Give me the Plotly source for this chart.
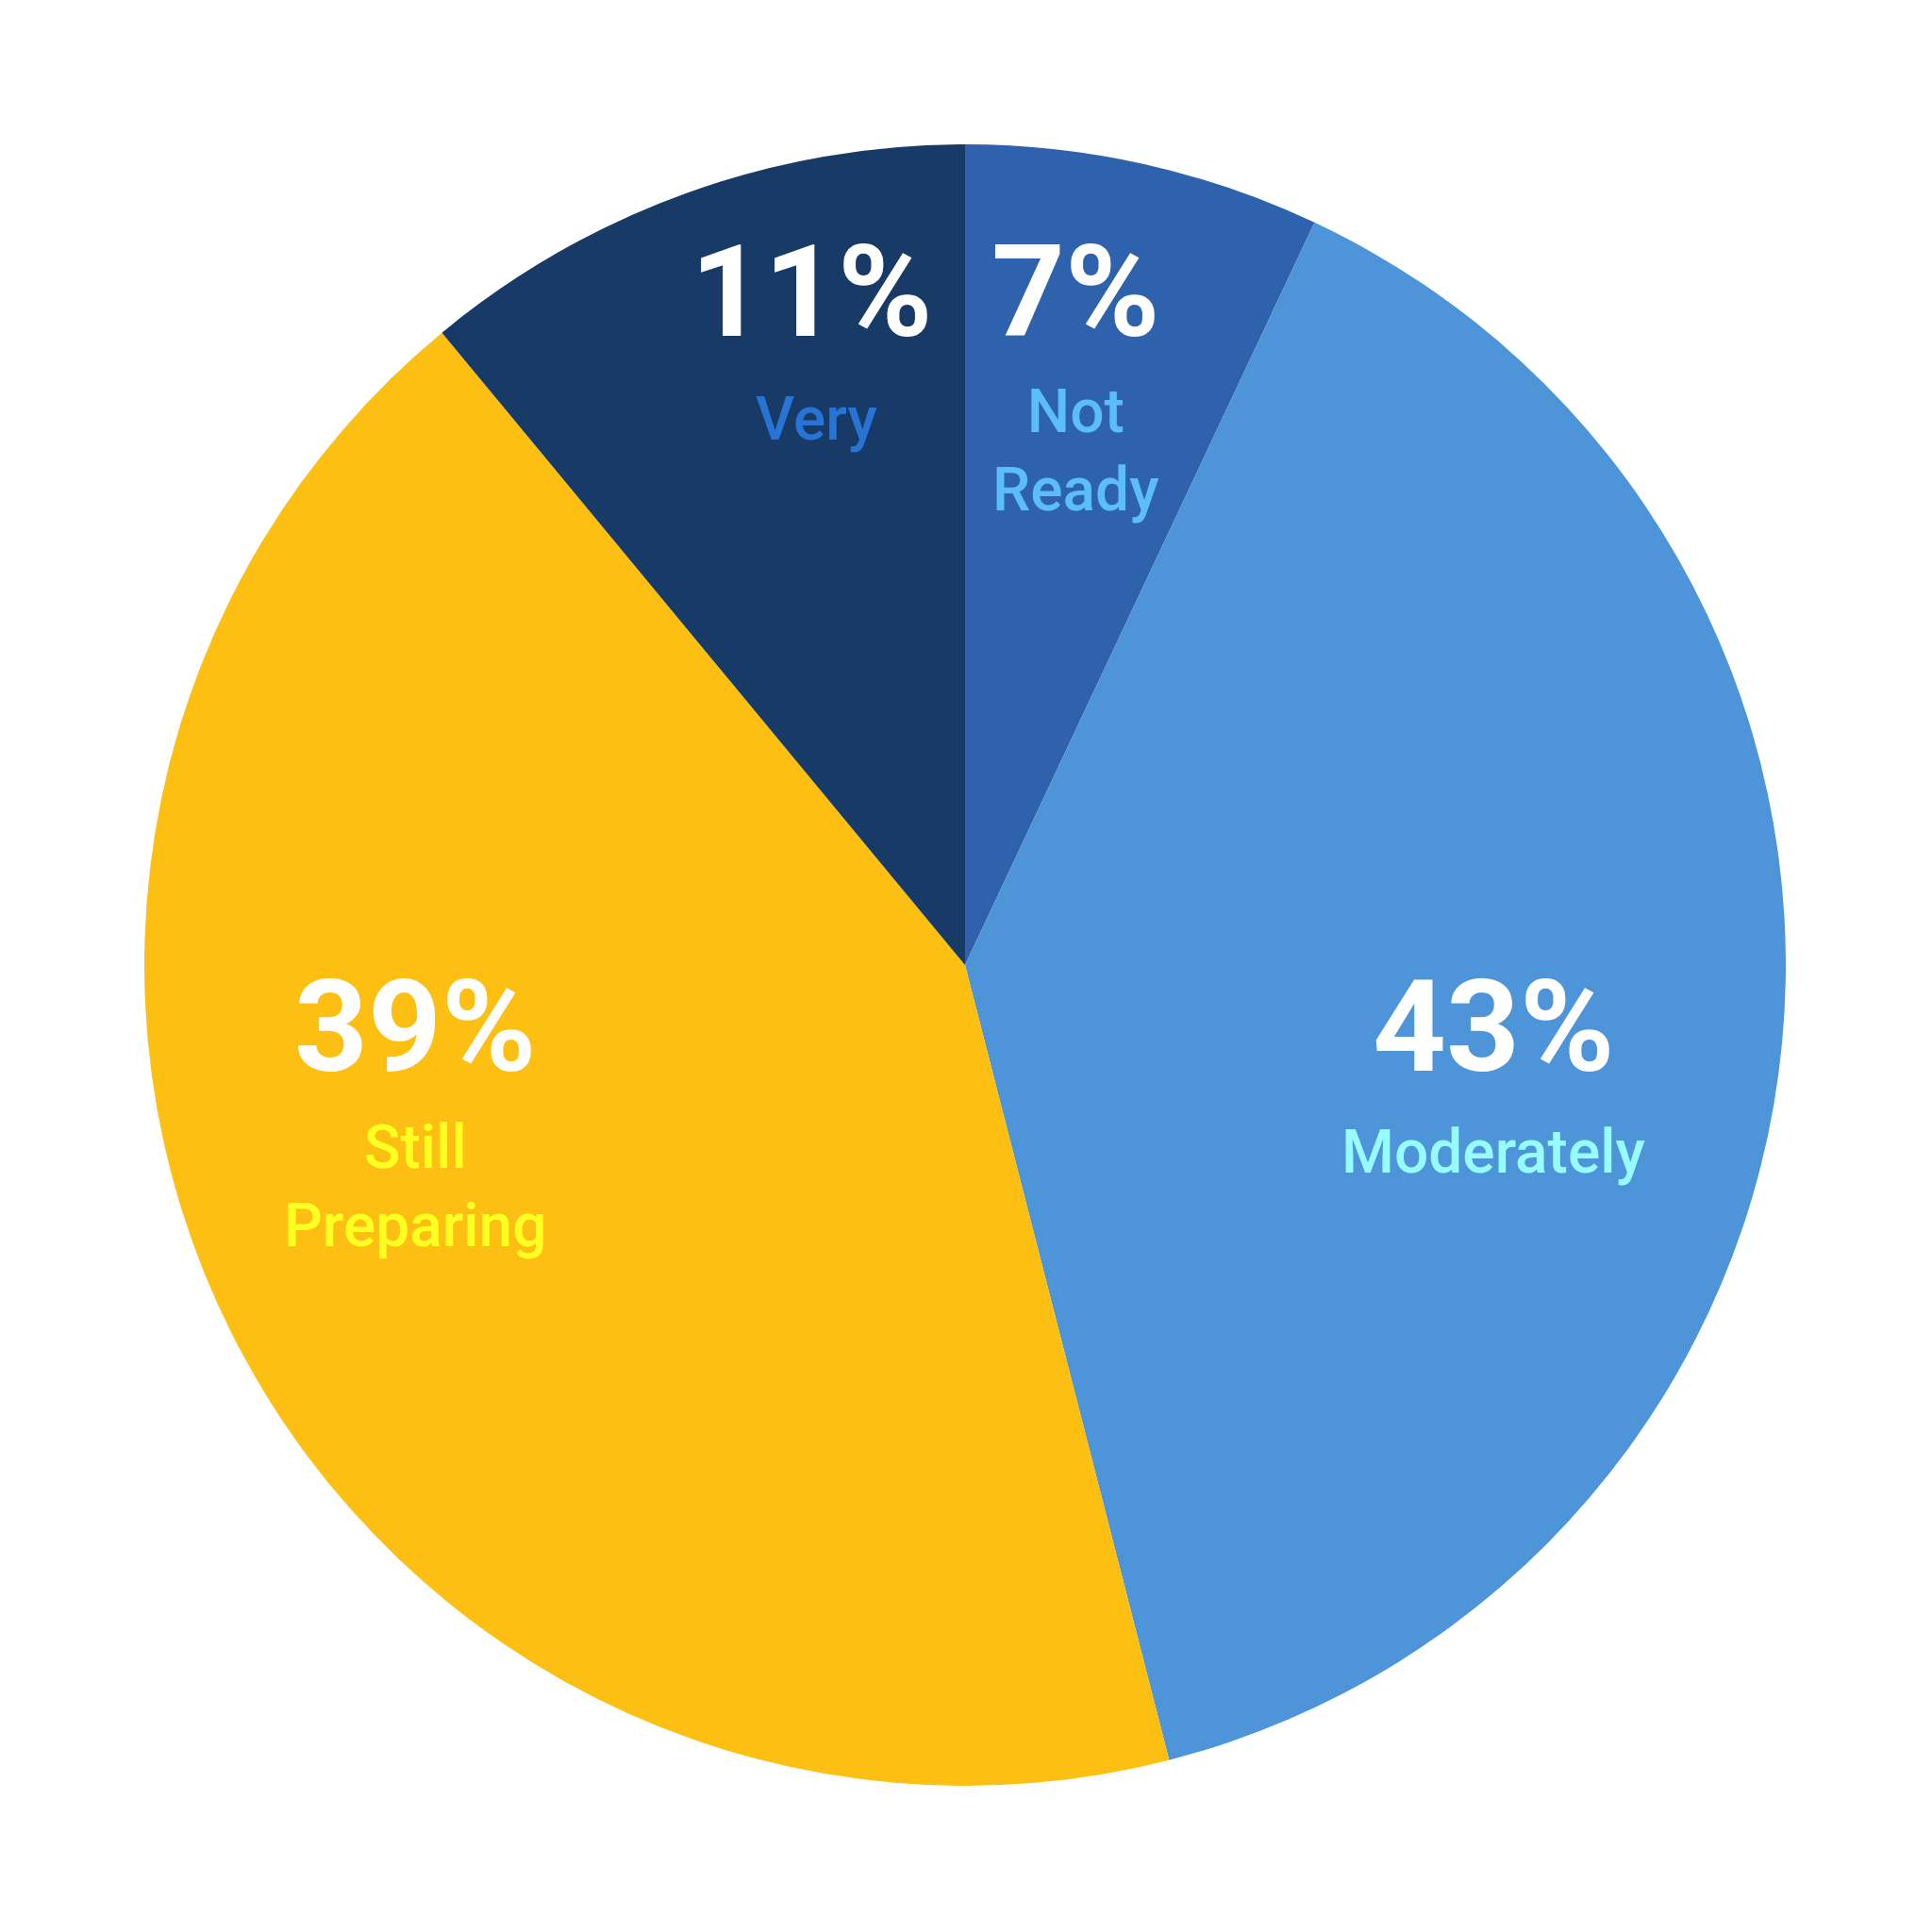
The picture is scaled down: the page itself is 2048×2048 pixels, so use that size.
import plotly.graph_objects as go

# Slices clockwise from 12 o'clock; shares
categories = ["Not Ready", "Moderately", "Still Preparing", "Very"]
slice_share = [7, 39, 43, 11]
# Percent text as printed on the chart
pct_labels = ["7%", "43%", "39%", "11%"]
name_labels = ["Not<br>Ready", "Moderately", "Still<br>Preparing", "Very"]

slice_colors = ["#2F62AC", "#4E94D8", "#FCBF12", "#173A66"]
name_colors = ["#5BBEFA", "#96FCFF", "#FFFF22", "#2874D4"]

# page body adds an 8px offset, so work in figure pixels
OFFSET = 8
W = H = 2040
CX = CY = 1023 - OFFSET
R = 870
MARGIN_L = CX - R
MARGIN_T = CY - R
SIDE = 2 * R

# page-pixel positions of the text blocks (percent centre, name centre)
pct_pos = [(1140, 310), (1583, 1088), (440, 1088), (860, 310)]
name_pos = [(1140, 478), (1583, 1221), (440, 1258), (865, 444)]


def to_paper(px, py):
    px -= OFFSET
    py -= OFFSET
    return (px - MARGIN_L) / SIDE, 1 - (py - MARGIN_T) / SIDE


fig = go.Figure()
fig.add_trace(go.Pie(
    labels=categories,
    values=slice_share,
    sort=False,
    direction="clockwise",
    rotation=0,
    marker=dict(colors=slice_colors, line=dict(width=0)),
    textinfo="none",
    hoverinfo="label+percent",
    showlegend=False,
))

annotations = []
for i, cat in enumerate(categories):
    x, y = to_paper(*pct_pos[i])
    annotations.append(dict(
        x=x, y=y, xref="paper", yref="paper",
        text=pct_labels[i], showarrow=False,
        xanchor="center", yanchor="middle",
        font=dict(family="Roboto", size=136, color="white", weight="bold"),
    ))
    x, y = to_paper(*name_pos[i])
    annotations.append(dict(
        x=x, y=y, xref="paper", yref="paper",
        text=name_labels[i], showarrow=False,
        xanchor="center", yanchor="middle",
        font=dict(family="Roboto", size=64, color=name_colors[i], weight=500),
    ))

fig.update_layout(
    width=W,
    height=H,
    margin=dict(l=MARGIN_L, r=W - CX - R, t=MARGIN_T, b=H - CY - R),
    paper_bgcolor="white",
    plot_bgcolor="white",
    annotations=annotations,
)

fig.write_html("out.html")
